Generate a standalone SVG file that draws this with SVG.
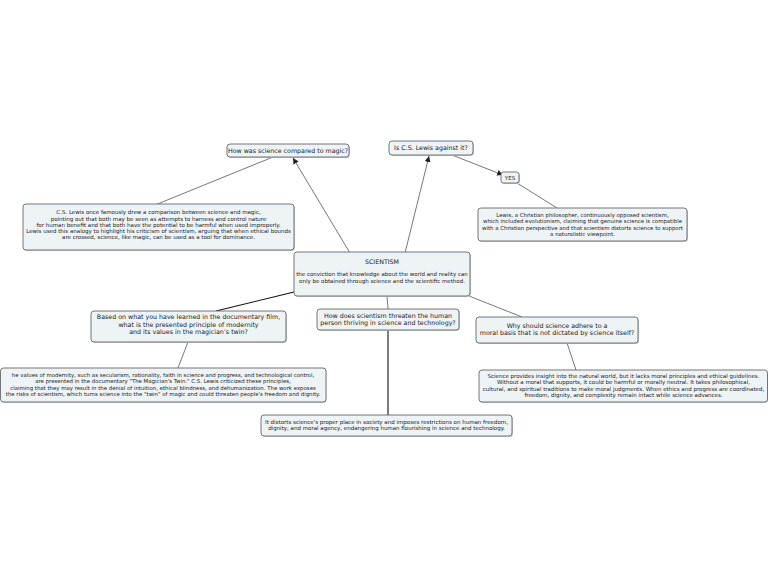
<svg xmlns="http://www.w3.org/2000/svg" width="768" height="578" viewBox="0 0 768 578">
<defs>
<marker id="arr" viewBox="0 0 10 10" refX="10" refY="5" markerWidth="6" markerHeight="6" orient="auto" markerUnits="userSpaceOnUse">
<path d="M0,0 L10,5 L0,10 z" fill="#222"/>
</marker>
<style>
.box{fill:#eef3f6;stroke:#666;stroke-width:0.9}
.sh{fill:#c8cdd0;stroke:none}
.t{font-family:"DejaVu Sans","Verdana",sans-serif;fill:#1a1a1a;text-anchor:middle}
.q{font-size:6.3px}
.s{font-size:5.5px}
.c{stroke:#555;stroke-width:0.8;fill:none}
.k{stroke:#111;stroke-width:1.1;fill:none}
</style>
</defs>
<rect width="768" height="578" fill="#ffffff"/>
<g id="connectors">
<line class="c" x1="350" y1="253" x2="293" y2="158" marker-end="url(#arr)"/>
<line class="c" x1="273" y1="157" x2="155" y2="205"/>
<line class="c" x1="405" y1="253" x2="429" y2="156" marker-end="url(#arr)"/>
<line class="c" x1="452" y1="155" x2="503" y2="175" marker-end="url(#arr)"/>
<line class="c" x1="517" y1="183" x2="557" y2="208"/>
<line class="k" x1="294" y1="292" x2="216" y2="311"/>
<line class="c" x1="387" y1="296" x2="388" y2="309"/>
<line class="c" x1="469" y1="296" x2="522" y2="317"/>
<line class="c" x1="188" y1="342" x2="178" y2="368"/>
<line class="k" x1="388" y1="330" x2="388" y2="415"/>
<line class="c" x1="567" y1="343" x2="576" y2="370"/>
</g>
<g id="n-magic">
<rect class="sh" x="228" y="145" width="122" height="13" rx="3"/>
<rect class="box" x="227" y="144" width="122" height="13" rx="3"/>
<text class="t q" x="288" y="152.8">How was science compared to magic?</text>
</g>
<g id="n-lewis">
<rect class="sh" x="390" y="142" width="84" height="14" rx="3"/>
<rect class="box" x="389" y="141" width="84" height="14" rx="3"/>
<text class="t q" x="431" y="150.3">Is C.S. Lewis against it?</text>
</g>
<g id="n-yes">
<rect class="sh" x="502" y="173" width="18" height="11" rx="2.5"/>
<rect class="box" x="501" y="172" width="18" height="11" rx="2.5"/>
<text class="t s" x="510" y="179.6">YES</text>
</g>
<g id="n-magic-text">
<rect class="sh" x="24" y="205" width="271" height="46" rx="3"/>
<rect class="box" x="23" y="204" width="271" height="46" rx="3"/>
<text class="t s" x="158.5" y="214.2">C.S. Lewis once famously drew a comparison between science and magic,</text>
<text class="t s" x="158.5" y="220.5">pointing out that both may be seen as attempts to harness and control nature</text>
<text class="t s" x="158.5" y="226.8">for human benefit and that both have the potential to be harmful when used improperly.</text>
<text class="t s" x="158.5" y="233.1">Lewis used this analogy to highlight his criticism of scientism, arguing that when ethical bounds</text>
<text class="t s" x="158.5" y="239.4">are crossed, science, like magic, can be used as a tool for dominance.</text>
</g>
<g id="n-lewis-text">
<rect class="sh" x="479" y="209" width="209" height="33" rx="3"/>
<rect class="box" x="478" y="208" width="209" height="33" rx="3"/>
<text class="t s" style="font-size:5.4px" x="582.5" y="217">Lewis, a Christian philosopher, continuously opposed scientism,</text>
<text class="t s" style="font-size:5.4px" x="582.5" y="223.3">which included evolutionism, claiming that genuine science is compatible</text>
<text class="t s" style="font-size:5.4px" x="582.5" y="229.6">with a Christian perspective and that scientism distorts science to support</text>
<text class="t s" style="font-size:5.4px" x="582.5" y="235.9">a naturalistic viewpoint.</text>
</g>
<g id="n-scientism">
<rect class="sh" x="295" y="253" width="176" height="44" rx="3"/>
<rect class="box" x="294" y="252" width="176" height="44" rx="3"/>
<text class="t q" x="382" y="264">SCIENTISM</text>
<text class="t s" x="382" y="276">the conviction that knowledge about the world and reality can</text>
<text class="t s" x="382" y="283.2">only be obtained through science and the scientific method.</text>
</g>
<g id="n-modernity">
<rect class="sh" x="92" y="312" width="195" height="31" rx="3"/>
<rect class="box" x="91" y="311" width="195" height="31" rx="3"/>
<text class="t q" x="188.5" y="319">Based on what you have learned in the documentary film,</text>
<text class="t q" x="188.5" y="326.5">what is the presented principle of modernity</text>
<text class="t q" x="188.5" y="334">and its values in the magician’s twin?</text>
</g>
<g id="n-threaten">
<rect class="sh" x="318" y="310" width="142" height="21" rx="3"/>
<rect class="box" x="317" y="309" width="142" height="21" rx="3"/>
<text class="t q" x="388" y="317.5">How does scientism threaten the human</text>
<text class="t q" x="388" y="325">person thriving in science and technology?</text>
</g>
<g id="n-moral">
<rect class="sh" x="477" y="318" width="162" height="26" rx="3"/>
<rect class="box" x="476" y="317" width="162" height="26" rx="3"/>
<text class="t q" x="557" y="327.5">Why should science adhere to a</text>
<text class="t q" x="557" y="335">moral basis that is not dictated by science itself?</text>
</g>
<g id="n-modernity-text">
<rect class="sh" x="1.5" y="369" width="325" height="34" rx="3"/>
<rect class="box" x="0.5" y="368" width="325.5" height="34" rx="3"/>
<text class="t s" style="font-size:5.4px" x="163" y="377">he values of modernity, such as secularism, rationality, faith in science and progress, and technological control,</text>
<text class="t s" style="font-size:5.4px" x="163" y="383.3">are presented in the documentary "The Magician's Twin." C.S. Lewis criticized these principles,</text>
<text class="t s" style="font-size:5.4px" x="163" y="389.6">claiming that they may result in the denial of intuition, ethical blindness, and dehumanization. The work exposes</text>
<text class="t s" style="font-size:5.4px" x="163" y="395.9">the risks of scientism, which turns science into the "twin" of magic and could threaten people's freedom and dignity.</text>
</g>
<g id="n-moral-text">
<rect class="sh" x="480" y="371" width="288" height="32" rx="3"/>
<rect class="box" x="479" y="370" width="288.5" height="32" rx="3"/>
<text class="t s" x="623.5" y="378">Science provides insight into the natural world, but it lacks moral principles and ethical guidelines.</text>
<text class="t s" x="623.5" y="384.3">Without a moral that supports, it could be harmful or morally neutral. It takes philosophical,</text>
<text class="t s" x="623.5" y="390.6">cultural, and spiritual traditions to make moral judgments. When ethics and progress are coordinated,</text>
<text class="t s" x="623.5" y="396.9">freedom, dignity, and complexity remain intact while science advances.</text>
</g>
<g id="n-threaten-text">
<rect class="sh" x="262" y="416" width="251" height="21" rx="3"/>
<rect class="box" x="261" y="415" width="251" height="21" rx="3"/>
<text class="t s" x="386.5" y="423.5">It distorts science's proper place in society and imposes restrictions on human freedom,</text>
<text class="t s" x="386.5" y="430.2">dignity, and moral agency, endangering human flourishing in science and technology.</text>
</g>
</svg>
